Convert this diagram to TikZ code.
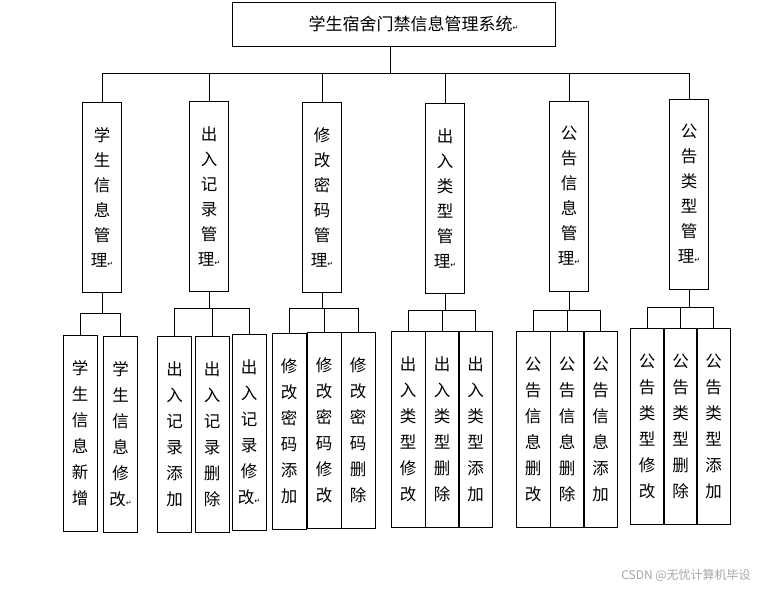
\documentclass[tikz,border=0pt]{standalone}
\usepackage{fontspec}
\setmainfont{Noto Sans CJK SC}
\newfontfamily\dvfont{DejaVu Sans}
\newcommand\rmk{{\dvfont\fontsize{7}{7}\selectfont ↵}}
\begin{document}
\begin{tikzpicture}[x=1pt,y=-1pt,
  box/.style={draw,line width=0.8pt,inner sep=0pt,align=center,font=\fontsize{16.5}{25}\selectfont},
  lv2/.style={box,minimum width=39pt,minimum height=190pt},
  lv3/.style={box,minimum width=34pt,minimum height=196pt,font=\fontsize{16.5}{26}\selectfont},
  ln/.style={line width=0.8pt}]
\useasboundingbox (0,0) rectangle (772,589);
\node[box,minimum width=323pt,minimum height=44pt,font=\fontsize{17}{20}\selectfont] (top) at (393.5,24) {\hspace*{40pt}学生宿舍门禁信息管理系统\rmk};
% level 2
\node[lv2] (a) at (102,197) {学\\生\\信\\息\\管\\理\rmk};
\node[lv2] (b) at (209,196) {出\\入\\记\\录\\管\\理\rmk};
\node[lv2] (c) at (322,197) {修\\改\\密\\码\\管\\理\rmk};
\node[lv2] (d) at (445,198) {出\\入\\类\\型\\管\\理\rmk};
\node[lv2] (e) at (569,196) {公\\告\\信\\息\\管\\理\rmk};
\node[lv2] (f) at (689,194) {公\\告\\类\\型\\管\\理\rmk};
\coordinate (hub) at (390,73);
\draw[ln] (top.south -| hub) -- (hub);
\draw[ln] (a.north |- hub) -- (f.north |- hub);
\foreach \n in {a,b,c,d,e,f} \draw[ln] (\n.north |- hub) -- (\n.north);
% level 3
\node[lv3] (a1) at (80,433.5) {学\\生\\信\\息\\新\\增};
\node[lv3] (a2) at (120.5,434) {学\\生\\信\\息\\修\\改\rmk};
\node[lv3] (b1) at (174.5,434.5) {出\\入\\记\\录\\添\\加};
\node[lv3] (b2) at (212,434.5) {出\\入\\记\\录\\删\\除};
\node[lv3] (b3) at (249,432.5) {出\\入\\记\\录\\修\\改\rmk};
\node[lv3] (c1) at (289,431.5) {修\\改\\密\\码\\添\\加};
\node[lv3] (c2) at (324,430.5) {修\\改\\密\\码\\修\\改};
\node[lv3] (c3) at (358,430.5) {修\\改\\密\\码\\删\\除};
\node[lv3] (d1) at (408,429.5) {出\\入\\类\\型\\修\\改};
\node[lv3] (d2) at (442,429.5) {出\\入\\类\\型\\删\\除};
\node[lv3] (d3) at (475.5,429.5) {出\\入\\类\\型\\添\\加};
\node[lv3] (e1) at (533,429) {公\\告\\信\\息\\删\\改};
\node[lv3] (e2) at (567,429) {公\\告\\信\\息\\删\\除};
\node[lv3] (e3) at (600.5,429) {公\\告\\信\\息\\添\\加};
\node[lv3] (f1) at (647,426) {公\\告\\类\\型\\修\\改};
\node[lv3] (f2) at (680.5,426) {公\\告\\类\\型\\删\\除};
\node[lv3] (f3) at (713.5,426) {公\\告\\类\\型\\添\\加};
\foreach \p/\y/\l/\r in {a/313/a1/a2,b/308/b1/b3,c/308/c1/c3,d/310/d1/d3,e/310/e1/e3,f/307/f1/f3}{
  \coordinate (\p h) at (0,\y);
  \draw[ln] (\p.south) -- (\p.south |- \p h);
  \draw[ln] (\l.north |- \p h) -- (\r.north |- \p h);
}
\foreach \p/\c in {a/a1,a/a2,b/b1,b/b2,b/b3,c/c1,c/c2,c/c3,d/d1,d/d2,d/d3,e/e1,e/e2,e/e3,f/f1,f/f2,f/f3}
  \draw[ln] (\c.north |- \p h) -- (\c.north);
\node[text=gray!70,font=\fontsize{12}{14}\selectfont] (wm) at (686,575) {CSDN @无忧计算机毕设};
\end{tikzpicture}
\end{document}
